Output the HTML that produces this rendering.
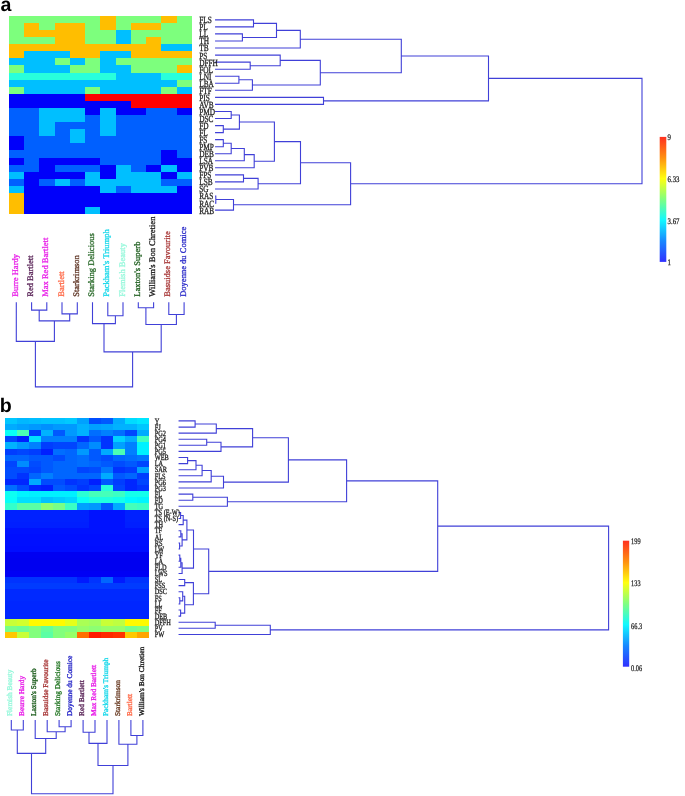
<!DOCTYPE html>
<html><head><meta charset="utf-8"><title>Figure</title><style>html,body{margin:0;padding:0;background:#fff}svg{display:block}text{text-rendering:geometricPrecision}</style></head><body>
<svg width="685" height="796" viewBox="0 0 685 796">
<defs><linearGradient id="jg" x1="0" y1="0" x2="0" y2="1"><stop offset="0" stop-color="#ff3020"/><stop offset="0.167" stop-color="#ff9010"/><stop offset="0.333" stop-color="#ffff10"/><stop offset="0.5" stop-color="#80ff80"/><stop offset="0.667" stop-color="#10f8ff"/><stop offset="0.833" stop-color="#1888ff"/><stop offset="1" stop-color="#3030ff"/></linearGradient></defs>
<rect width="685" height="796" fill="#fff"/>
<g shape-rendering="crispEdges">
<rect x="8.80" y="15.90" width="91.80" height="7.38" fill="#7dff7d"/>
<rect x="100.30" y="15.90" width="15.55" height="7.38" fill="#ffbe00"/>
<rect x="115.55" y="15.90" width="46.05" height="7.38" fill="#7dff7d"/>
<rect x="161.30" y="15.90" width="15.55" height="7.38" fill="#ffbe00"/>
<rect x="176.55" y="15.90" width="15.55" height="7.38" fill="#7dff7d"/>
<rect x="8.80" y="22.98" width="15.55" height="7.38" fill="#7dff7d"/>
<rect x="24.05" y="22.98" width="15.55" height="7.38" fill="#ffbe00"/>
<rect x="39.30" y="22.98" width="15.55" height="7.38" fill="#7dff7d"/>
<rect x="54.55" y="22.98" width="30.80" height="7.38" fill="#ffbe00"/>
<rect x="85.05" y="22.98" width="15.55" height="7.38" fill="#7dff7d"/>
<rect x="100.30" y="22.98" width="15.55" height="7.38" fill="#ffbe00"/>
<rect x="115.55" y="22.98" width="15.55" height="7.38" fill="#7dff7d"/>
<rect x="130.80" y="22.98" width="30.80" height="7.38" fill="#ffbe00"/>
<rect x="161.30" y="22.98" width="30.80" height="7.38" fill="#7dff7d"/>
<rect x="8.80" y="30.06" width="15.55" height="7.38" fill="#7dff7d"/>
<rect x="24.05" y="30.06" width="61.30" height="7.38" fill="#ffbe00"/>
<rect x="85.05" y="30.06" width="30.80" height="7.38" fill="#7dff7d"/>
<rect x="115.55" y="30.06" width="15.55" height="7.38" fill="#00bfff"/>
<rect x="130.80" y="30.06" width="61.30" height="7.38" fill="#7dff7d"/>
<rect x="8.80" y="37.14" width="46.05" height="7.38" fill="#7dff7d"/>
<rect x="54.55" y="37.14" width="30.80" height="7.38" fill="#ffbe00"/>
<rect x="85.05" y="37.14" width="30.80" height="7.38" fill="#7dff7d"/>
<rect x="115.55" y="37.14" width="15.55" height="7.38" fill="#00bfff"/>
<rect x="130.80" y="37.14" width="15.55" height="7.38" fill="#7dff7d"/>
<rect x="146.05" y="37.14" width="15.55" height="7.38" fill="#ffbe00"/>
<rect x="161.30" y="37.14" width="30.80" height="7.38" fill="#7dff7d"/>
<rect x="8.80" y="44.22" width="152.80" height="7.38" fill="#ffbe00"/>
<rect x="161.30" y="44.22" width="30.80" height="7.38" fill="#00bfff"/>
<rect x="8.80" y="51.30" width="15.55" height="7.38" fill="#ffbe00"/>
<rect x="24.05" y="51.30" width="46.05" height="7.38" fill="#00bfff"/>
<rect x="69.80" y="51.30" width="30.80" height="7.38" fill="#ffbe00"/>
<rect x="100.30" y="51.30" width="30.80" height="7.38" fill="#00bfff"/>
<rect x="130.80" y="51.30" width="61.30" height="7.38" fill="#ffbe00"/>
<rect x="8.80" y="58.38" width="46.05" height="7.38" fill="#00bfff"/>
<rect x="54.55" y="58.38" width="15.55" height="7.38" fill="#7dff7d"/>
<rect x="69.80" y="58.38" width="15.55" height="7.38" fill="#00bfff"/>
<rect x="85.05" y="58.38" width="15.55" height="7.38" fill="#7dff7d"/>
<rect x="100.30" y="58.38" width="15.55" height="7.38" fill="#00bfff"/>
<rect x="115.55" y="58.38" width="76.55" height="7.38" fill="#7dff7d"/>
<rect x="8.80" y="65.46" width="15.55" height="7.38" fill="#7dff7d"/>
<rect x="24.05" y="65.46" width="46.05" height="7.38" fill="#00bfff"/>
<rect x="69.80" y="65.46" width="30.80" height="7.38" fill="#7dff7d"/>
<rect x="100.30" y="65.46" width="30.80" height="7.38" fill="#00bfff"/>
<rect x="130.80" y="65.46" width="46.05" height="7.38" fill="#7dff7d"/>
<rect x="176.55" y="65.46" width="15.55" height="7.38" fill="#ffbe00"/>
<rect x="8.80" y="72.54" width="107.05" height="7.38" fill="#28ffdc"/>
<rect x="115.55" y="72.54" width="46.05" height="7.38" fill="#00bfff"/>
<rect x="161.30" y="72.54" width="30.80" height="7.38" fill="#28ffdc"/>
<rect x="8.80" y="79.62" width="168.05" height="7.38" fill="#00bfff"/>
<rect x="176.55" y="79.62" width="15.55" height="7.38" fill="#7dff7d"/>
<rect x="8.80" y="86.70" width="15.55" height="7.38" fill="#7dff7d"/>
<rect x="24.05" y="86.70" width="61.30" height="7.38" fill="#00bfff"/>
<rect x="85.05" y="86.70" width="15.55" height="7.38" fill="#7dff7d"/>
<rect x="100.30" y="86.70" width="61.30" height="7.38" fill="#00bfff"/>
<rect x="161.30" y="86.70" width="15.55" height="7.38" fill="#7dff7d"/>
<rect x="176.55" y="86.70" width="15.55" height="7.38" fill="#00bfff"/>
<rect x="8.80" y="93.78" width="76.55" height="7.38" fill="#0000fa"/>
<rect x="85.05" y="93.78" width="107.05" height="7.38" fill="#ff0000"/>
<rect x="8.80" y="100.86" width="122.30" height="7.38" fill="#0000fa"/>
<rect x="130.80" y="100.86" width="61.30" height="7.38" fill="#ff0000"/>
<rect x="8.80" y="107.94" width="30.80" height="7.38" fill="#0060ff"/>
<rect x="39.30" y="107.94" width="46.05" height="7.38" fill="#00bfff"/>
<rect x="85.05" y="107.94" width="15.55" height="7.38" fill="#0000fa"/>
<rect x="100.30" y="107.94" width="15.55" height="7.38" fill="#00bfff"/>
<rect x="115.55" y="107.94" width="30.80" height="7.38" fill="#0000fa"/>
<rect x="146.05" y="107.94" width="30.80" height="7.38" fill="#0060ff"/>
<rect x="176.55" y="107.94" width="15.55" height="7.38" fill="#0000fa"/>
<rect x="8.80" y="115.02" width="30.80" height="7.38" fill="#0060ff"/>
<rect x="39.30" y="115.02" width="46.05" height="7.38" fill="#00bfff"/>
<rect x="85.05" y="115.02" width="15.55" height="7.38" fill="#0060ff"/>
<rect x="100.30" y="115.02" width="15.55" height="7.38" fill="#00bfff"/>
<rect x="115.55" y="115.02" width="76.55" height="7.38" fill="#0060ff"/>
<rect x="8.80" y="122.10" width="30.80" height="7.38" fill="#0060ff"/>
<rect x="39.30" y="122.10" width="15.55" height="7.38" fill="#00bfff"/>
<rect x="54.55" y="122.10" width="46.05" height="7.38" fill="#0060ff"/>
<rect x="100.30" y="122.10" width="15.55" height="7.38" fill="#00bfff"/>
<rect x="115.55" y="122.10" width="76.55" height="7.38" fill="#0060ff"/>
<rect x="8.80" y="129.18" width="30.80" height="7.38" fill="#0060ff"/>
<rect x="39.30" y="129.18" width="15.55" height="7.38" fill="#00bfff"/>
<rect x="54.55" y="129.18" width="15.55" height="7.38" fill="#0060ff"/>
<rect x="69.80" y="129.18" width="15.55" height="7.38" fill="#00bfff"/>
<rect x="85.05" y="129.18" width="15.55" height="7.38" fill="#0060ff"/>
<rect x="100.30" y="129.18" width="15.55" height="7.38" fill="#00bfff"/>
<rect x="115.55" y="129.18" width="76.55" height="7.38" fill="#0060ff"/>
<rect x="8.80" y="136.26" width="15.55" height="7.38" fill="#0000fa"/>
<rect x="24.05" y="136.26" width="46.05" height="7.38" fill="#0060ff"/>
<rect x="69.80" y="136.26" width="15.55" height="7.38" fill="#00bfff"/>
<rect x="85.05" y="136.26" width="107.05" height="7.38" fill="#0060ff"/>
<rect x="8.80" y="143.34" width="15.55" height="7.38" fill="#0000fa"/>
<rect x="24.05" y="143.34" width="168.05" height="7.38" fill="#0060ff"/>
<rect x="8.80" y="150.42" width="152.80" height="7.38" fill="#0060ff"/>
<rect x="161.30" y="150.42" width="15.55" height="7.38" fill="#0000fa"/>
<rect x="176.55" y="150.42" width="15.55" height="7.38" fill="#0060ff"/>
<rect x="8.80" y="157.50" width="15.55" height="7.38" fill="#0000fa"/>
<rect x="24.05" y="157.50" width="15.55" height="7.38" fill="#0060ff"/>
<rect x="39.30" y="157.50" width="61.30" height="7.38" fill="#0000fa"/>
<rect x="100.30" y="157.50" width="61.30" height="7.38" fill="#0060ff"/>
<rect x="161.30" y="157.50" width="30.80" height="7.38" fill="#0000fa"/>
<rect x="8.80" y="164.58" width="30.80" height="7.38" fill="#0060ff"/>
<rect x="39.30" y="164.58" width="15.55" height="7.38" fill="#0000fa"/>
<rect x="54.55" y="164.58" width="46.05" height="7.38" fill="#0060ff"/>
<rect x="100.30" y="164.58" width="15.55" height="7.38" fill="#0000fa"/>
<rect x="115.55" y="164.58" width="15.55" height="7.38" fill="#00bfff"/>
<rect x="130.80" y="164.58" width="15.55" height="7.38" fill="#0060ff"/>
<rect x="146.05" y="164.58" width="15.55" height="7.38" fill="#0000fa"/>
<rect x="161.30" y="164.58" width="15.55" height="7.38" fill="#00bfff"/>
<rect x="176.55" y="164.58" width="15.55" height="7.38" fill="#0000fa"/>
<rect x="8.80" y="171.66" width="15.55" height="7.38" fill="#00bfff"/>
<rect x="24.05" y="171.66" width="61.30" height="7.38" fill="#0000fa"/>
<rect x="85.05" y="171.66" width="15.55" height="7.38" fill="#00bfff"/>
<rect x="100.30" y="171.66" width="15.55" height="7.38" fill="#0000fa"/>
<rect x="115.55" y="171.66" width="46.05" height="7.38" fill="#00bfff"/>
<rect x="161.30" y="171.66" width="15.55" height="7.38" fill="#0000fa"/>
<rect x="176.55" y="171.66" width="15.55" height="7.38" fill="#00bfff"/>
<rect x="8.80" y="178.74" width="15.55" height="7.38" fill="#0060ff"/>
<rect x="24.05" y="178.74" width="15.55" height="7.38" fill="#0000fa"/>
<rect x="39.30" y="178.74" width="15.55" height="7.38" fill="#0060ff"/>
<rect x="54.55" y="178.74" width="15.55" height="7.38" fill="#00bfff"/>
<rect x="69.80" y="178.74" width="15.55" height="7.38" fill="#0060ff"/>
<rect x="85.05" y="178.74" width="76.55" height="7.38" fill="#00bfff"/>
<rect x="161.30" y="178.74" width="30.80" height="7.38" fill="#0060ff"/>
<rect x="8.80" y="185.82" width="15.55" height="7.38" fill="#00bfff"/>
<rect x="24.05" y="185.82" width="76.55" height="7.38" fill="#0000fa"/>
<rect x="100.30" y="185.82" width="15.55" height="7.38" fill="#00bfff"/>
<rect x="115.55" y="185.82" width="15.55" height="7.38" fill="#0060ff"/>
<rect x="130.80" y="185.82" width="46.05" height="7.38" fill="#00bfff"/>
<rect x="176.55" y="185.82" width="15.55" height="7.38" fill="#0000fa"/>
<rect x="8.80" y="192.90" width="15.55" height="7.38" fill="#ffbe00"/>
<rect x="24.05" y="192.90" width="168.05" height="7.38" fill="#0000fa"/>
<rect x="8.80" y="199.98" width="15.55" height="7.38" fill="#ffbe00"/>
<rect x="24.05" y="199.98" width="168.05" height="7.38" fill="#0000fa"/>
<rect x="8.80" y="207.06" width="15.55" height="7.38" fill="#ffbe00"/>
<rect x="24.05" y="207.06" width="61.30" height="7.38" fill="#0000fa"/>
<rect x="85.05" y="207.06" width="15.55" height="7.38" fill="#00bfff"/>
<rect x="100.30" y="207.06" width="91.80" height="7.38" fill="#0000fa"/>
<rect x="5.00" y="418.00" width="12.29" height="6.41" fill="#00c7ff"/>
<rect x="16.99" y="418.00" width="12.29" height="6.41" fill="#00b8ff"/>
<rect x="28.98" y="418.00" width="12.29" height="6.41" fill="#00bdff"/>
<rect x="40.97" y="418.00" width="24.28" height="6.41" fill="#00c2ff"/>
<rect x="64.95" y="418.00" width="12.29" height="6.41" fill="#00c9ff"/>
<rect x="76.94" y="418.00" width="12.29" height="6.41" fill="#00a1ff"/>
<rect x="88.93" y="418.00" width="12.29" height="6.41" fill="#004cff"/>
<rect x="100.92" y="418.00" width="12.29" height="6.41" fill="#0059ff"/>
<rect x="112.91" y="418.00" width="12.29" height="6.41" fill="#00abff"/>
<rect x="124.90" y="418.00" width="12.29" height="6.41" fill="#00dbff"/>
<rect x="136.89" y="418.00" width="12.29" height="6.41" fill="#00e6ff"/>
<rect x="5.00" y="424.11" width="12.29" height="6.41" fill="#00abff"/>
<rect x="16.99" y="424.11" width="12.29" height="6.41" fill="#00a1ff"/>
<rect x="28.98" y="424.11" width="12.29" height="6.41" fill="#0099ff"/>
<rect x="40.97" y="424.11" width="12.29" height="6.41" fill="#008fff"/>
<rect x="52.96" y="424.11" width="24.28" height="6.41" fill="#0099ff"/>
<rect x="76.94" y="424.11" width="12.29" height="6.41" fill="#00b2ff"/>
<rect x="88.93" y="424.11" width="12.29" height="6.41" fill="#00a1ff"/>
<rect x="100.92" y="424.11" width="12.29" height="6.41" fill="#00a6ff"/>
<rect x="112.91" y="424.11" width="24.28" height="6.41" fill="#00b2ff"/>
<rect x="136.89" y="424.11" width="12.29" height="6.41" fill="#00c7ff"/>
<rect x="5.00" y="430.21" width="12.29" height="6.41" fill="#08fff7"/>
<rect x="16.99" y="430.21" width="12.29" height="6.41" fill="#4cffb3"/>
<rect x="28.98" y="430.21" width="12.29" height="6.41" fill="#003dff"/>
<rect x="40.97" y="430.21" width="12.29" height="6.41" fill="#00b2ff"/>
<rect x="52.96" y="430.21" width="12.29" height="6.41" fill="#0059ff"/>
<rect x="64.95" y="430.21" width="12.29" height="6.41" fill="#0099ff"/>
<rect x="76.94" y="430.21" width="12.29" height="6.41" fill="#00b2ff"/>
<rect x="88.93" y="430.21" width="12.29" height="6.41" fill="#006eff"/>
<rect x="100.92" y="430.21" width="12.29" height="6.41" fill="#0080ff"/>
<rect x="112.91" y="430.21" width="12.29" height="6.41" fill="#006eff"/>
<rect x="124.90" y="430.21" width="12.29" height="6.41" fill="#0045ff"/>
<rect x="136.89" y="430.21" width="12.29" height="6.41" fill="#00abff"/>
<rect x="5.00" y="436.31" width="12.29" height="6.41" fill="#0045ff"/>
<rect x="16.99" y="436.31" width="12.29" height="6.41" fill="#001fff"/>
<rect x="28.98" y="436.31" width="12.29" height="6.41" fill="#00e0ff"/>
<rect x="40.97" y="436.31" width="36.27" height="6.41" fill="#0080ff"/>
<rect x="76.94" y="436.31" width="12.29" height="6.41" fill="#0033ff"/>
<rect x="88.93" y="436.31" width="12.29" height="6.41" fill="#0059ff"/>
<rect x="100.92" y="436.31" width="12.29" height="6.41" fill="#0033ff"/>
<rect x="112.91" y="436.31" width="12.29" height="6.41" fill="#00d1ff"/>
<rect x="124.90" y="436.31" width="12.29" height="6.41" fill="#00abff"/>
<rect x="136.89" y="436.31" width="12.29" height="6.41" fill="#40ffbf"/>
<rect x="5.00" y="442.42" width="12.29" height="6.41" fill="#00b2ff"/>
<rect x="16.99" y="442.42" width="12.29" height="6.41" fill="#0099ff"/>
<rect x="28.98" y="442.42" width="12.29" height="6.41" fill="#0080ff"/>
<rect x="40.97" y="442.42" width="12.29" height="6.41" fill="#003dff"/>
<rect x="52.96" y="442.42" width="24.28" height="6.41" fill="#0045ff"/>
<rect x="76.94" y="442.42" width="12.29" height="6.41" fill="#0066ff"/>
<rect x="88.93" y="442.42" width="12.29" height="6.41" fill="#008cff"/>
<rect x="100.92" y="442.42" width="12.29" height="6.41" fill="#0033ff"/>
<rect x="112.91" y="442.42" width="12.29" height="6.41" fill="#00a1ff"/>
<rect x="124.90" y="442.42" width="12.29" height="6.41" fill="#0080ff"/>
<rect x="136.89" y="442.42" width="12.29" height="6.41" fill="#00f2ff"/>
<rect x="5.00" y="448.52" width="12.29" height="6.41" fill="#003dff"/>
<rect x="16.99" y="448.52" width="12.29" height="6.41" fill="#0045ff"/>
<rect x="28.98" y="448.52" width="12.29" height="6.41" fill="#003dff"/>
<rect x="40.97" y="448.52" width="12.29" height="6.41" fill="#001fff"/>
<rect x="52.96" y="448.52" width="12.29" height="6.41" fill="#006eff"/>
<rect x="64.95" y="448.52" width="12.29" height="6.41" fill="#0066ff"/>
<rect x="76.94" y="448.52" width="12.29" height="6.41" fill="#0099ff"/>
<rect x="88.93" y="448.52" width="12.29" height="6.41" fill="#0059ff"/>
<rect x="100.92" y="448.52" width="12.29" height="6.41" fill="#00abff"/>
<rect x="112.91" y="448.52" width="12.29" height="6.41" fill="#4cffb3"/>
<rect x="124.90" y="448.52" width="12.29" height="6.41" fill="#0080ff"/>
<rect x="136.89" y="448.52" width="12.29" height="6.41" fill="#00f2ff"/>
<rect x="5.00" y="454.63" width="24.28" height="6.41" fill="#0066ff"/>
<rect x="28.98" y="454.63" width="24.28" height="6.41" fill="#0059ff"/>
<rect x="52.96" y="454.63" width="12.29" height="6.41" fill="#004cff"/>
<rect x="64.95" y="454.63" width="12.29" height="6.41" fill="#0066ff"/>
<rect x="76.94" y="454.63" width="12.29" height="6.41" fill="#006eff"/>
<rect x="88.93" y="454.63" width="12.29" height="6.41" fill="#0059ff"/>
<rect x="100.92" y="454.63" width="12.29" height="6.41" fill="#004cff"/>
<rect x="112.91" y="454.63" width="12.29" height="6.41" fill="#0066ff"/>
<rect x="124.90" y="454.63" width="12.29" height="6.41" fill="#006eff"/>
<rect x="136.89" y="454.63" width="12.29" height="6.41" fill="#0078ff"/>
<rect x="5.00" y="460.74" width="12.29" height="6.41" fill="#0045ff"/>
<rect x="16.99" y="460.74" width="12.29" height="6.41" fill="#008cff"/>
<rect x="28.98" y="460.74" width="12.29" height="6.41" fill="#004cff"/>
<rect x="40.97" y="460.74" width="12.29" height="6.41" fill="#0059ff"/>
<rect x="52.96" y="460.74" width="24.28" height="6.41" fill="#0066ff"/>
<rect x="76.94" y="460.74" width="12.29" height="6.41" fill="#006eff"/>
<rect x="88.93" y="460.74" width="12.29" height="6.41" fill="#0066ff"/>
<rect x="100.92" y="460.74" width="12.29" height="6.41" fill="#0059ff"/>
<rect x="112.91" y="460.74" width="12.29" height="6.41" fill="#004cff"/>
<rect x="124.90" y="460.74" width="12.29" height="6.41" fill="#0059ff"/>
<rect x="136.89" y="460.74" width="12.29" height="6.41" fill="#0045ff"/>
<rect x="5.00" y="466.84" width="24.28" height="6.41" fill="#004cff"/>
<rect x="28.98" y="466.84" width="12.29" height="6.41" fill="#0045ff"/>
<rect x="40.97" y="466.84" width="12.29" height="6.41" fill="#0059ff"/>
<rect x="52.96" y="466.84" width="24.28" height="6.41" fill="#0066ff"/>
<rect x="76.94" y="466.84" width="12.29" height="6.41" fill="#0045ff"/>
<rect x="88.93" y="466.84" width="12.29" height="6.41" fill="#004cff"/>
<rect x="100.92" y="466.84" width="12.29" height="6.41" fill="#0078ff"/>
<rect x="112.91" y="466.84" width="12.29" height="6.41" fill="#0033ff"/>
<rect x="124.90" y="466.84" width="12.29" height="6.41" fill="#003dff"/>
<rect x="136.89" y="466.84" width="12.29" height="6.41" fill="#00a1ff"/>
<rect x="5.00" y="472.94" width="12.29" height="6.41" fill="#004cff"/>
<rect x="16.99" y="472.94" width="12.29" height="6.41" fill="#0033ff"/>
<rect x="28.98" y="472.94" width="12.29" height="6.41" fill="#0066ff"/>
<rect x="40.97" y="472.94" width="12.29" height="6.41" fill="#0080ff"/>
<rect x="52.96" y="472.94" width="48.26" height="6.41" fill="#0066ff"/>
<rect x="100.92" y="472.94" width="12.29" height="6.41" fill="#00abff"/>
<rect x="112.91" y="472.94" width="12.29" height="6.41" fill="#0059ff"/>
<rect x="124.90" y="472.94" width="12.29" height="6.41" fill="#0066ff"/>
<rect x="136.89" y="472.94" width="12.29" height="6.41" fill="#003dff"/>
<rect x="5.00" y="479.05" width="24.28" height="6.41" fill="#0026ff"/>
<rect x="28.98" y="479.05" width="12.29" height="6.41" fill="#00abff"/>
<rect x="40.97" y="479.05" width="24.28" height="6.41" fill="#004cff"/>
<rect x="64.95" y="479.05" width="12.29" height="6.41" fill="#0033ff"/>
<rect x="76.94" y="479.05" width="12.29" height="6.41" fill="#003dff"/>
<rect x="88.93" y="479.05" width="12.29" height="6.41" fill="#001fff"/>
<rect x="100.92" y="479.05" width="12.29" height="6.41" fill="#0059ff"/>
<rect x="112.91" y="479.05" width="12.29" height="6.41" fill="#003dff"/>
<rect x="124.90" y="479.05" width="12.29" height="6.41" fill="#0026ff"/>
<rect x="136.89" y="479.05" width="12.29" height="6.41" fill="#0045ff"/>
<rect x="5.00" y="485.15" width="12.29" height="6.41" fill="#006eff"/>
<rect x="16.99" y="485.15" width="12.29" height="6.41" fill="#004cff"/>
<rect x="28.98" y="485.15" width="12.29" height="6.41" fill="#0026ff"/>
<rect x="40.97" y="485.15" width="12.29" height="6.41" fill="#001fff"/>
<rect x="52.96" y="485.15" width="12.29" height="6.41" fill="#0059ff"/>
<rect x="64.95" y="485.15" width="12.29" height="6.41" fill="#004cff"/>
<rect x="76.94" y="485.15" width="12.29" height="6.41" fill="#0033ff"/>
<rect x="88.93" y="485.15" width="12.29" height="6.41" fill="#0045ff"/>
<rect x="100.92" y="485.15" width="12.29" height="6.41" fill="#26ffd9"/>
<rect x="112.91" y="485.15" width="12.29" height="6.41" fill="#0045ff"/>
<rect x="124.90" y="485.15" width="12.29" height="6.41" fill="#0026ff"/>
<rect x="136.89" y="485.15" width="12.29" height="6.41" fill="#0033ff"/>
<rect x="5.00" y="491.26" width="12.29" height="6.41" fill="#0dfff2"/>
<rect x="16.99" y="491.26" width="12.29" height="6.41" fill="#00f5ff"/>
<rect x="28.98" y="491.26" width="48.26" height="6.41" fill="#00f0ff"/>
<rect x="76.94" y="491.26" width="12.29" height="6.41" fill="#2bffd4"/>
<rect x="88.93" y="491.26" width="24.28" height="6.41" fill="#45ffba"/>
<rect x="112.91" y="491.26" width="12.29" height="6.41" fill="#3bffc4"/>
<rect x="124.90" y="491.26" width="24.28" height="6.41" fill="#14ffeb"/>
<rect x="5.00" y="497.37" width="12.29" height="6.41" fill="#08fff7"/>
<rect x="16.99" y="497.37" width="24.28" height="6.41" fill="#00e0ff"/>
<rect x="40.97" y="497.37" width="12.29" height="6.41" fill="#00c2ff"/>
<rect x="52.96" y="497.37" width="12.29" height="6.41" fill="#00ccff"/>
<rect x="64.95" y="497.37" width="12.29" height="6.41" fill="#00d6ff"/>
<rect x="76.94" y="497.37" width="12.29" height="6.41" fill="#0afff5"/>
<rect x="88.93" y="497.37" width="24.28" height="6.41" fill="#1fffe0"/>
<rect x="112.91" y="497.37" width="12.29" height="6.41" fill="#14ffeb"/>
<rect x="124.90" y="497.37" width="12.29" height="6.41" fill="#00faff"/>
<rect x="136.89" y="497.37" width="12.29" height="6.41" fill="#00f5ff"/>
<rect x="5.00" y="503.47" width="12.29" height="6.41" fill="#33ffcc"/>
<rect x="16.99" y="503.47" width="24.28" height="6.41" fill="#59ffa6"/>
<rect x="40.97" y="503.47" width="12.29" height="6.41" fill="#8cff73"/>
<rect x="52.96" y="503.47" width="12.29" height="6.41" fill="#78ff87"/>
<rect x="64.95" y="503.47" width="12.29" height="6.41" fill="#3bffc4"/>
<rect x="76.94" y="503.47" width="12.29" height="6.41" fill="#00a1ff"/>
<rect x="88.93" y="503.47" width="12.29" height="6.41" fill="#0099ff"/>
<rect x="100.92" y="503.47" width="12.29" height="6.41" fill="#0059ff"/>
<rect x="112.91" y="503.47" width="12.29" height="6.41" fill="#00abff"/>
<rect x="124.90" y="503.47" width="12.29" height="6.41" fill="#45ffba"/>
<rect x="136.89" y="503.47" width="12.29" height="6.41" fill="#3bffc4"/>
<rect x="5.00" y="509.57" width="84.23" height="6.41" fill="#0021ff"/>
<rect x="88.93" y="509.57" width="36.27" height="6.41" fill="#0012ff"/>
<rect x="124.90" y="509.57" width="24.28" height="6.41" fill="#0021ff"/>
<rect x="5.00" y="515.68" width="84.23" height="6.41" fill="#0021ff"/>
<rect x="88.93" y="515.68" width="36.27" height="6.41" fill="#0012ff"/>
<rect x="124.90" y="515.68" width="24.28" height="6.41" fill="#0021ff"/>
<rect x="5.00" y="521.78" width="84.23" height="6.41" fill="#001fff"/>
<rect x="88.93" y="521.78" width="36.27" height="6.41" fill="#0012ff"/>
<rect x="124.90" y="521.78" width="24.28" height="6.41" fill="#001fff"/>
<rect x="5.00" y="527.89" width="144.18" height="6.41" fill="#0012ff"/>
<rect x="5.00" y="534.00" width="144.18" height="6.41" fill="#000fff"/>
<rect x="5.00" y="540.10" width="144.18" height="6.41" fill="#000fff"/>
<rect x="5.00" y="546.21" width="144.18" height="6.41" fill="#000dff"/>
<rect x="5.00" y="552.31" width="144.18" height="6.41" fill="#0000f2"/>
<rect x="5.00" y="558.41" width="144.18" height="6.41" fill="#0000f0"/>
<rect x="5.00" y="564.52" width="144.18" height="6.41" fill="#0000f0"/>
<rect x="5.00" y="570.62" width="144.18" height="6.41" fill="#0000f5"/>
<rect x="5.00" y="576.73" width="72.24" height="6.41" fill="#0033ff"/>
<rect x="76.94" y="576.73" width="12.29" height="6.41" fill="#001aff"/>
<rect x="88.93" y="576.73" width="12.29" height="6.41" fill="#0033ff"/>
<rect x="100.92" y="576.73" width="12.29" height="6.41" fill="#0066ff"/>
<rect x="112.91" y="576.73" width="12.29" height="6.41" fill="#001aff"/>
<rect x="124.90" y="576.73" width="24.28" height="6.41" fill="#0033ff"/>
<rect x="5.00" y="582.84" width="144.18" height="6.41" fill="#003bff"/>
<rect x="5.00" y="588.94" width="144.18" height="6.41" fill="#0029ff"/>
<rect x="5.00" y="595.05" width="144.18" height="6.41" fill="#0029ff"/>
<rect x="5.00" y="601.15" width="144.18" height="6.41" fill="#0026ff"/>
<rect x="5.00" y="607.25" width="144.18" height="6.41" fill="#0026ff"/>
<rect x="5.00" y="613.36" width="144.18" height="6.41" fill="#0026ff"/>
<rect x="5.00" y="619.47" width="12.29" height="6.41" fill="#c8ff37"/>
<rect x="16.99" y="619.47" width="12.29" height="6.41" fill="#d2ff2d"/>
<rect x="28.98" y="619.47" width="36.27" height="6.41" fill="#fffa00"/>
<rect x="64.95" y="619.47" width="12.29" height="6.41" fill="#e6ff19"/>
<rect x="76.94" y="619.47" width="12.29" height="6.41" fill="#aaff55"/>
<rect x="88.93" y="619.47" width="12.29" height="6.41" fill="#a0ff5f"/>
<rect x="100.92" y="619.47" width="12.29" height="6.41" fill="#c8ff37"/>
<rect x="112.91" y="619.47" width="12.29" height="6.41" fill="#beff41"/>
<rect x="124.90" y="619.47" width="24.28" height="6.41" fill="#fffa00"/>
<rect x="5.00" y="625.57" width="12.29" height="6.41" fill="#78ff87"/>
<rect x="16.99" y="625.57" width="12.29" height="6.41" fill="#6eff91"/>
<rect x="28.98" y="625.57" width="12.29" height="6.41" fill="#82ff7d"/>
<rect x="40.97" y="625.57" width="12.29" height="6.41" fill="#64ff9b"/>
<rect x="52.96" y="625.57" width="24.28" height="6.41" fill="#82ff7d"/>
<rect x="76.94" y="625.57" width="12.29" height="6.41" fill="#96ff69"/>
<rect x="88.93" y="625.57" width="12.29" height="6.41" fill="#8cff73"/>
<rect x="100.92" y="625.57" width="24.28" height="6.41" fill="#96ff69"/>
<rect x="124.90" y="625.57" width="12.29" height="6.41" fill="#78ff87"/>
<rect x="136.89" y="625.57" width="12.29" height="6.41" fill="#82ff7d"/>
<rect x="5.00" y="631.67" width="12.29" height="6.41" fill="#ffc800"/>
<rect x="16.99" y="631.67" width="12.29" height="6.41" fill="#c8ff37"/>
<rect x="28.98" y="631.67" width="12.29" height="6.41" fill="#82ff7d"/>
<rect x="40.97" y="631.67" width="12.29" height="6.41" fill="#5affa5"/>
<rect x="52.96" y="631.67" width="12.29" height="6.41" fill="#82ff7d"/>
<rect x="64.95" y="631.67" width="12.29" height="6.41" fill="#96ff69"/>
<rect x="76.94" y="631.67" width="12.29" height="6.41" fill="#ff6e00"/>
<rect x="88.93" y="631.67" width="12.29" height="6.41" fill="#ff1900"/>
<rect x="100.92" y="631.67" width="12.29" height="6.41" fill="#ff2800"/>
<rect x="112.91" y="631.67" width="12.29" height="6.41" fill="#ff3200"/>
<rect x="124.90" y="631.67" width="12.29" height="6.41" fill="#ffc800"/>
<rect x="136.89" y="631.67" width="12.29" height="6.41" fill="#ffa500"/>
</g>
<path d="M215.6 19.9H253.5M215.6 26.9H253.5M253.5 19.9V26.9M215.6 33.9H242.4M215.6 41.0H242.4M242.4 33.9V41.0M253.5 23.4H276.5M242.4 37.5H276.5M276.5 23.4V37.5M276.5 30.4H300.3M215.6 48.0H300.3M300.3 30.4V48.0M215.6 62.1H250.2M215.6 69.2H250.2M250.2 62.1V69.2M215.6 55.1H280.2M250.2 65.7H280.2M280.2 55.1V65.7M215.6 76.2H238.9M215.6 83.3H238.9M238.9 76.2V83.3M238.9 79.7H252.4M215.6 90.3H252.4M252.4 79.7V90.3M280.2 60.4H320.3M252.4 85.0H320.3M320.3 60.4V85.0M300.3 39.2H401.3M320.3 72.7H401.3M401.3 39.2V72.7M215.6 97.4H323.5M215.6 104.4H323.5M323.5 97.4V104.4M401.3 56.0H488.5M323.5 100.9H488.5M488.5 56.0V100.9M215.6 111.5H231.2M215.6 118.5H231.2M231.2 111.5V118.5M215.6 125.6H223.3M215.6 132.6H223.3M223.3 125.6V132.6M231.2 115.0H239.4M223.3 129.1H239.4M239.4 115.0V129.1M215.6 139.6H223.3M215.6 146.7H223.3M223.3 139.6V146.7M223.3 143.2H231.2M215.6 153.7H231.2M231.2 143.2V153.7M231.2 148.5H244.3M215.6 160.8H244.3M244.3 148.5V160.8M244.3 154.6H254.2M215.6 167.8H254.2M254.2 154.6V167.8M239.4 122.0H274.4M254.2 161.2H274.4M274.4 122.0V161.2M215.6 174.9H243.5M215.6 181.9H243.5M243.5 174.9V181.9M243.5 178.4H258.1M215.6 189.0H258.1M258.1 178.4V189.0M274.4 141.6H300.5M258.1 183.7H300.5M300.5 141.6V183.7M215.6 196.0H215.8M215.6 203.1H215.8M215.8 196.0V203.1M215.8 199.5H233.5M215.6 210.1H233.5M233.5 199.5V210.1M300.5 162.7H350.6M233.5 204.8H350.6M350.6 162.7V204.8M488.5 78.4H642.0M350.6 183.7H642.0M642.0 78.4V183.7M31.6 302.9V310.1M46.8 302.9V310.1M31.6 310.1H46.8M62.0 302.9V313.9M77.3 302.9V313.9M62.0 313.9H77.3M39.2 310.1V320.9M69.7 313.9V320.9M39.2 320.9H69.7M16.3 302.9V341.4M54.4 320.9V341.4M16.3 341.4H54.4M107.8 302.9V315.7M123.0 302.9V315.7M107.8 315.7H123.0M92.5 302.9V323.6M115.4 315.7V323.6M92.5 323.6H115.4M138.3 302.9V307.8M153.6 302.9V307.8M138.3 307.8H153.6M168.8 302.9V314.5M184.1 302.9V314.5M168.8 314.5H184.1M145.9 307.8V324.5M176.4 314.5V324.5M145.9 324.5H176.4M104.0 323.6V351.9M161.2 324.5V351.9M104.0 351.9H161.2M35.4 341.4V386.9M132.6 351.9V386.9M35.4 386.9H132.6M179.1 420.9H195.1M179.1 427.1H195.1M195.1 420.9V427.1M195.1 424.0H216.3M179.1 433.1H216.3M216.3 424.0V433.1M179.1 439.2H206.7M179.1 445.3H206.7M206.7 439.2V445.3M206.7 442.3H221.0M179.1 451.4H221.0M221.0 442.3V451.4M216.3 428.6H252.6M221.0 446.9H252.6M252.6 428.6V446.9M179.1 457.5H187.6M179.1 463.6H187.6M187.6 457.5V463.6M187.6 460.6H196.0M179.1 469.8H196.0M196.0 460.6V469.8M196.0 465.2H202.1M179.1 475.8H202.1M202.1 465.2V475.8M202.1 470.5H211.2M179.1 481.9H211.2M211.2 470.5V481.9M211.2 476.2H223.5M179.1 488.0H223.5M223.5 476.2V488.0M252.6 437.7H288.4M223.5 482.1H288.4M288.4 437.7V482.1M179.1 494.1H192.8M179.1 500.2H192.8M192.8 494.1V500.2M192.8 497.2H227.4M179.1 506.3H227.4M227.4 497.2V506.3M288.4 459.9H346.6M227.4 501.8H346.6M346.6 459.9V501.8M179.1 512.5H180.6M179.1 518.5H180.6M180.6 512.5V518.5M180.6 515.5H183.2M179.1 524.6H183.2M183.2 515.5V524.6M179.1 530.8H180.8M179.1 536.9H180.8M180.8 530.8V536.9M179.1 543.0H179.6M179.1 549.0H179.6M179.6 543.0V549.0M180.8 533.8H182.1M179.6 546.0H182.1M182.1 533.8V546.0M183.2 520.1H186.9M182.1 539.9H186.9M186.9 520.1V539.9M179.1 555.1H179.8M179.1 561.2H179.8M179.8 555.1V561.2M179.8 558.2H180.8M179.1 567.3H180.8M180.8 558.2V567.3M180.8 562.8H182.1M179.1 573.5H182.1M182.1 562.8V573.5M186.9 530.0H193.5M182.1 568.1H193.5M193.5 530.0V568.1M179.1 579.5H184.7M179.1 585.6H184.7M184.7 579.5V585.6M179.1 597.8H179.8M179.1 604.0H179.8M179.8 597.8V604.0M179.1 591.8H182.7M179.8 600.9H182.7M182.7 591.8V600.9M179.1 610.0H180.6M179.1 616.1H180.6M180.6 610.0V616.1M182.7 596.3H184.7M180.6 613.1H184.7M184.7 596.3V613.1M184.7 582.6H193.4M184.7 604.7H193.4M193.4 582.6V604.7M193.5 549.0H208.7M193.4 593.7H208.7M208.7 549.0V593.7M346.6 480.9H437.7M208.7 571.4H437.7M437.7 480.9V571.4M179.1 622.2H215.2M179.1 628.3H215.2M215.2 622.2V628.3M215.2 625.3H270.3M179.1 634.5H270.3M270.3 625.3V634.5M437.7 526.1H608.6M270.3 629.9H608.6M608.6 526.1V629.9M11.3 720.6V730.0M23.3 720.6V730.0M11.3 730.0H23.3M59.1 720.6V726.8M71.1 720.6V726.8M59.1 726.8H71.1M47.2 720.6V731.8M65.1 726.8V731.8M47.2 731.8H65.1M35.2 720.6V738.5M56.2 731.8V738.5M35.2 738.5H56.2M17.3 730.0V753.4M45.7 738.5V753.4M17.3 753.4H45.7M83.1 720.6V732.3M95.0 720.6V732.3M83.1 732.3H95.0M89.0 732.3V743.4M107.0 720.6V743.4M89.0 743.4H107.0M130.9 720.6V735.5M142.9 720.6V735.5M130.9 735.5H142.9M118.9 720.6V744.2M136.9 735.5V744.2M118.9 744.2H136.9M98.0 743.4V765.5M127.9 744.2V765.5M98.0 765.5H127.9M31.5 753.4V793.8M113.0 765.5V793.8M31.5 793.8H113.0" fill="none" stroke="#4040d8" stroke-width="1.1" stroke-linecap="square"/>
<g font-family="Liberation Serif, serif" font-size="9.5" fill="#1c1c1c" stroke="#1c1c1c" stroke-width="0.3">
<text transform="translate(199.2,23.30) scale(0.77,1)">FLS</text>
<text transform="translate(199.2,30.35) scale(0.77,1)">PL</text>
<text transform="translate(199.2,37.39) scale(0.77,1)">LL</text>
<text transform="translate(199.2,44.44) scale(0.77,1)">TH</text>
<text transform="translate(199.2,51.49) scale(0.77,1)">TB</text>
<text transform="translate(199.2,58.54) scale(0.77,1)">PS</text>
<text transform="translate(199.2,65.58) scale(0.77,1)">DFFH</text>
<text transform="translate(199.2,72.63) scale(0.77,1)">FOL</text>
<text transform="translate(199.2,79.68) scale(0.77,1)">LNI</text>
<text transform="translate(199.2,86.72) scale(0.77,1)">LBA</text>
<text transform="translate(199.2,93.77) scale(0.77,1)">FTF</text>
<text transform="translate(199.2,100.82) scale(0.77,1)">PIS</text>
<text transform="translate(199.2,107.86) scale(0.77,1)">AVB</text>
<text transform="translate(199.2,114.91) scale(0.77,1)">PMD</text>
<text transform="translate(199.2,121.96) scale(0.77,1)">DSC</text>
<text transform="translate(199.2,129.00) scale(0.77,1)">FD</text>
<text transform="translate(199.2,136.05) scale(0.77,1)">FL</text>
<text transform="translate(199.2,143.10) scale(0.77,1)">FS</text>
<text transform="translate(199.2,150.15) scale(0.77,1)">PMP</text>
<text transform="translate(199.2,157.19) scale(0.77,1)">DEB</text>
<text transform="translate(199.2,164.24) scale(0.77,1)">LSA</text>
<text transform="translate(199.2,171.29) scale(0.77,1)">PVB</text>
<text transform="translate(199.2,178.33) scale(0.77,1)">FPS</text>
<text transform="translate(199.2,185.38) scale(0.77,1)">LSB</text>
<text transform="translate(199.2,192.43) scale(0.77,1)">SG</text>
<text transform="translate(199.2,199.47) scale(0.77,1)">RAS</text>
<text transform="translate(199.2,206.52) scale(0.77,1)">RAC</text>
<text transform="translate(199.2,213.57) scale(0.77,1)">RAB</text>
</g>
<g font-family="Liberation Serif, serif" font-size="8.0" fill="#1c1c1c" stroke="#1c1c1c" stroke-width="0.3">
<text transform="translate(154.7,423.65) scale(0.79,1)">Y</text>
<text transform="translate(154.7,429.75) scale(0.79,1)">FJ</text>
<text transform="translate(154.7,435.85) scale(0.79,1)">PG2</text>
<text transform="translate(154.7,441.95) scale(0.79,1)">PG4</text>
<text transform="translate(154.7,448.05) scale(0.79,1)">PG1</text>
<text transform="translate(154.7,454.15) scale(0.79,1)">PG5</text>
<text transform="translate(154.7,460.25) scale(0.79,1)">WEB</text>
<text transform="translate(154.7,466.35) scale(0.79,1)">LA</text>
<text transform="translate(154.7,472.45) scale(0.79,1)">SAR</text>
<text transform="translate(154.7,478.55) scale(0.79,1)">FLS</text>
<text transform="translate(154.7,484.65) scale(0.79,1)">PG6</text>
<text transform="translate(154.7,490.75) scale(0.79,1)">PG3</text>
<text transform="translate(154.7,496.85) scale(0.79,1)">FL</text>
<text transform="translate(154.7,502.95) scale(0.79,1)">FD</text>
<text transform="translate(154.7,509.05) scale(0.79,1)">TG</text>
<text transform="translate(154.7,515.15) scale(0.79,1)">TS (E-W)</text>
<text transform="translate(154.7,521.25) scale(0.79,1)">TS (N-S)</text>
<text transform="translate(154.7,527.35) scale(0.79,1)">TH</text>
<text transform="translate(154.7,533.45) scale(0.79,1)">TF</text>
<text transform="translate(154.7,539.55) scale(0.79,1)">AL</text>
<text transform="translate(154.7,545.65) scale(0.79,1)">RS</text>
<text transform="translate(154.7,551.75) scale(0.79,1)">LW</text>
<text transform="translate(154.7,557.85) scale(0.79,1)">YF</text>
<text transform="translate(154.7,563.95) scale(0.79,1)">LA</text>
<text transform="translate(154.7,570.05) scale(0.79,1)">FLD</text>
<text transform="translate(154.7,576.15) scale(0.79,1)">LWS</text>
<text transform="translate(154.7,582.25) scale(0.79,1)">SL</text>
<text transform="translate(154.7,588.35) scale(0.79,1)">FSS</text>
<text transform="translate(154.7,594.45) scale(0.79,1)">DSC</text>
<text transform="translate(154.7,600.55) scale(0.79,1)">FS</text>
<text transform="translate(154.7,606.65) scale(0.79,1)">LL</text>
<text transform="translate(154.7,612.75) scale(0.79,1)">FF</text>
<text transform="translate(154.7,618.85) scale(0.79,1)">DEB</text>
<text transform="translate(154.7,624.95) scale(0.79,1)">DFFH</text>
<text transform="translate(154.7,631.05) scale(0.79,1)">PV</text>
<text transform="translate(154.7,637.15) scale(0.79,1)">PW</text>
</g>
<g font-family="Liberation Serif, serif" font-size="8.52">
<text transform="translate(17.90,296.8) rotate(-90)" fill="#e81ee8" stroke="#e81ee8" stroke-width="0.3">Burre Hardy</text>
<text transform="translate(33.15,296.8) rotate(-90)" fill="#5a2458" stroke="#5a2458" stroke-width="0.3">Red Bartlett</text>
<text transform="translate(48.40,296.8) rotate(-90)" fill="#e81ee8" stroke="#e81ee8" stroke-width="0.3">Max Red Bartlett</text>
<text transform="translate(63.65,296.8) rotate(-90)" fill="#ff6a48" stroke="#ff6a48" stroke-width="0.3">Bartlett</text>
<text transform="translate(78.90,296.8) rotate(-90)" fill="#5e3424" stroke="#5e3424" stroke-width="0.3">Starkrimson</text>
<text transform="translate(94.15,296.8) rotate(-90)" fill="#2a6a2a" stroke="#2a6a2a" stroke-width="0.3">Starking Delicious</text>
<text transform="translate(109.40,296.8) rotate(-90)" fill="#18d8ea" stroke="#18d8ea" stroke-width="0.3">Packham's Triumph</text>
<text transform="translate(124.65,296.8) rotate(-90)" fill="#98f8dc" stroke="#98f8dc" stroke-width="0.3">Flemish Beauty</text>
<text transform="translate(139.90,296.8) rotate(-90)" fill="#1e5e1e" stroke="#1e5e1e" stroke-width="0.3">Laxton's Superb</text>
<text transform="translate(155.15,296.8) rotate(-90)" fill="#1a1a1a" stroke="#1a1a1a" stroke-width="0.3">William's Bon Chretien</text>
<text transform="translate(170.40,296.8) rotate(-90)" fill="#a83838" stroke="#a83838" stroke-width="0.3">Basuidse Favourite</text>
<text transform="translate(185.65,296.8) rotate(-90)" fill="#2828c8" stroke="#2828c8" stroke-width="0.3">Doyenne du Comice</text>
</g>
<g font-family="Liberation Serif, serif" font-size="7.35">
<text transform="translate(12.40,716.0) rotate(-90)" fill="#98f8dc" stroke="#98f8dc" stroke-width="0.35">Flemish Beauty</text>
<text transform="translate(24.36,716.0) rotate(-90)" fill="#e81ee8" stroke="#e81ee8" stroke-width="0.35">Beurre Hardy</text>
<text transform="translate(36.32,716.0) rotate(-90)" fill="#1e5e1e" stroke="#1e5e1e" stroke-width="0.35">Laxton's Superb</text>
<text transform="translate(48.28,716.0) rotate(-90)" fill="#a83838" stroke="#a83838" stroke-width="0.35">Basuidse Favourite</text>
<text transform="translate(60.24,716.0) rotate(-90)" fill="#2a7a2a" stroke="#2a7a2a" stroke-width="0.35">Starking Delicious</text>
<text transform="translate(72.20,716.0) rotate(-90)" fill="#2828c8" stroke="#2828c8" stroke-width="0.35">Doyenne du Comice</text>
<text transform="translate(84.16,716.0) rotate(-90)" fill="#5a2458" stroke="#5a2458" stroke-width="0.35">Red Bartlett</text>
<text transform="translate(96.12,716.0) rotate(-90)" fill="#e81ee8" stroke="#e81ee8" stroke-width="0.35">Max Red Bartlett</text>
<text transform="translate(108.08,716.0) rotate(-90)" fill="#18d8ea" stroke="#18d8ea" stroke-width="0.35">Packham's Triumph</text>
<text transform="translate(120.04,716.0) rotate(-90)" fill="#6a3c24" stroke="#6a3c24" stroke-width="0.35">Starkrimson</text>
<text transform="translate(132.00,716.0) rotate(-90)" fill="#ff6a48" stroke="#ff6a48" stroke-width="0.35">Bartlett</text>
<text transform="translate(143.96,716.0) rotate(-90)" fill="#1a1a1a" stroke="#1a1a1a" stroke-width="0.35">William's Bon Chretien</text>
</g>
<rect x="659.7" y="136.9" width="6.6" height="125" fill="url(#jg)"/>
<rect x="622.9" y="540.7" width="6.3" height="126" fill="url(#jg)"/>
<g font-family="Liberation Serif, serif" font-size="8.5" fill="#1c1c1c" stroke="#1c1c1c" stroke-width="0.25">
<text transform="translate(667.6,140.1) scale(0.8,1)">9</text>
<text transform="translate(667.6,182.2) scale(0.8,1)">6.33</text>
<text transform="translate(667.6,223.5) scale(0.8,1)">3.67</text>
<text transform="translate(667.6,264.6) scale(0.8,1)">1</text>
<text transform="translate(631.1,543.8) scale(0.74,1)">199</text>
<text transform="translate(631.1,586.1) scale(0.74,1)">133</text>
<text transform="translate(631.1,628.6) scale(0.74,1)">66.3</text>
<text transform="translate(631.1,670.6) scale(0.74,1)">0.06</text>
</g>
<g font-family="Liberation Sans, sans-serif" font-weight="bold" font-size="19.6" fill="#000">
<text x="0.4" y="10.7">a</text><text x="-0.2" y="412.3">b</text></g>
</svg>
</body></html>
